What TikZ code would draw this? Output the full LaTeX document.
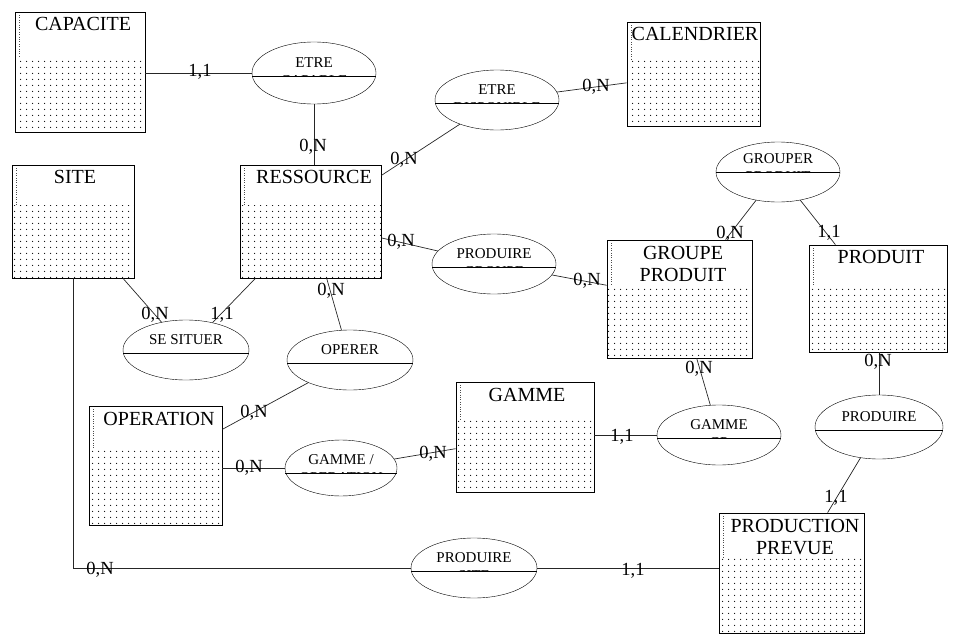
\documentclass[tikz,border=0pt]{standalone}
\usepackage{fontspec}
\setmainfont{Liberation Serif}
\usetikzlibrary{shapes.geometric,patterns.meta}
\tikzdeclarepattern{name=sdots,tile size={(6pt,6pt)},bottom left={(0pt,0pt)},top right={(6pt,6pt)},code={\fill (3pt,3pt) circle (0.7pt);}}
\tikzset{
 ent/.style={draw,thick,rectangle,inner sep=0},
 rel/.style={draw,ellipse,inner sep=0},
 ttl/.style={font=\fontsize{20}{22}\selectfont,inner sep=0},
 rtx/.style={font=\fontsize{15}{17}\selectfont,inner sep=0},
 card/.style={font=\fontsize{18.5}{20}\selectfont,inner sep=0},
 ln/.style={draw=black!85,line width=0.7pt}
}
% name, x1, y1, x2, y2, patternY
\newcommand{\myent}[6]{%
 \fill[pattern=sdots,pattern color=black] (#2,#6) rectangle (#4,#5);
 \draw[dotted,black!70] (#2+4,#3+3) -- (#2+4,#6);
 \node[ent,minimum width=#4-#2,minimum height=#5-#3] (#1) at ({(#2+#4)/2},{(#3+#5)/2}) {};}
% name, cx, cy, rx, ry, divider y, line1, line2
\newcommand{\myrel}[8]{%
 \node[rel,minimum width=2*#4,minimum height=2*#5] (#1) at (#2,#3) {};
 \draw (#2-#4,#6) -- (#2+#4,#6);
 \begin{scope}\clip (#2-#4,#3-#5) rectangle (#2+#4,#6);
 \node[rtx,anchor=base] (#1t) at (#2,#6-9) {#7};
 \node[rtx,anchor=base] (#1u) at (#2,#6+9) {#8};
 \end{scope}}
\begin{document}
\begin{tikzpicture}[x=1pt,y=-1pt]
\useasboundingbox (0,0) rectangle (962,640);
\myent{cap}{15}{12}{145}{132}{57}
\myent{cal}{627}{22}{760}{126}{60}
\myent{site}{12}{165}{134}{278}{205}
\myent{res}{240}{165}{381}{278}{205}
\myent{gp}{607}{240}{752}{358}{285}
\myent{prod}{809}{245}{947}{352}{285}
\myent{opn}{89}{406}{222}{525}{448}
\myent{gam}{456}{382}{594}{492}{420}
\myent{pp}{719}{513}{864}{633}{558}
\node[ttl] (tcap) at (83,24) {CAPACITE};
\node[ttl] (tcal) at (695,34) {CALENDRIER};
\node[ttl] (tsite) at (75,177) {SITE};
\node[ttl] (tres) at (314,177) {RESSOURCE};
\node[ttl] (tgp) at (683,253) {GROUPE};
\node[ttl] (tgp2) at (683,275) {PRODUIT};
\node[ttl] (tprod) at (881,257) {PRODUIT};
\node[ttl] (topn) at (159,419) {OPERATION};
\node[ttl] (tgam) at (527,395) {GAMME};
\node[ttl] (tpp) at (795,526) {PRODUCTION};
\node[ttl] (tpp2) at (795,548) {PREVUE};
\myrel{ec}{314}{73}{62}{31}{76}{ETRE}{CAPABLE}
\myrel{ed}{497}{100}{62}{30}{103}{ETRE}{DISPONIBLE}
\myrel{grp}{778}{172}{62}{30}{172}{GROUPER}{PRODUIT}
\myrel{pg}{494}{264}{62}{30}{267}{PRODUIRE}{GROUPE}
\myrel{ss}{186}{350}{63}{30}{353}{SE SITUER}{}
\myrel{op}{350}{360}{63}{30}{363}{OPERER}{}
\myrel{go}{341}{468}{56}{28}{473}{GAMME /}{OPERATION}
\myrel{ggp}{719}{435}{62}{30}{438}{GAMME}{GP}
\myrel{pr}{879}{427}{64}{32}{430}{PRODUIRE}{}
\myrel{ps}{474}{568}{63}{30}{571}{PRODUIRE}{SITE}
\draw[ln] (cap.east |- ec.west) -- (ec.west);
\draw[ln] (ec.south) -- (ec.south |- res.north);
\draw[ln] (res) -- (ed);
\draw[ln] (ed) -- (cal);
\draw[ln] (res) -- (pg);
\draw[ln] (pg) -- (gp);
\draw[ln] (grp) -- (gp);
\draw[ln] (grp) -- (prod);
\draw[ln] (site) -- (ss);
\draw[ln] (res) -- (ss);
\draw[ln] (res) -- (op);
\draw[ln] (op) -- (opn);
\draw[ln] (go.west) -- (go.west -| opn.east);
\draw[ln] (go) -- (gam);
\draw[ln] (ggp.west) -- (ggp.west -| gam.east);
\draw[ln] (gp) -- (ggp);
\draw[ln] (pr.north) -- (pr.north |- prod.south);
\draw[ln] (pr) -- (pp);
\draw[ln] (site.south) |- (ps.west);
\draw[ln] (ps.east) -- (ps.east -| pp.west);
\node[card] (c1) at (200,72) {1,1};
\node[card] (c2) at (313,147) {0,N};
\node[card] (c3) at (404,160) {0,N};
\node[card] (c4) at (596,87) {0,N};
\node[card] (c5) at (401,242) {0,N};
\node[card] (c6) at (587,281) {0,N};
\node[card] (c7) at (730,234) {0,N};
\node[card] (c8) at (829,233) {1,1};
\node[card] (c9) at (155,315) {0,N};
\node[card] (c10) at (222,315) {1,1};
\node[card] (c11) at (331,291) {0,N};
\node[card] (c12) at (254,413) {0,N};
\node[card] (c13) at (249,468) {0,N};
\node[card] (c14) at (433,454) {0,N};
\node[card] (c15) at (622,437) {1,1};
\node[card] (c16) at (699,369) {0,N};
\node[card] (c17) at (878,362) {0,N};
\node[card] (c18) at (836,498) {1,1};
\node[card] (c19) at (100,570) {0,N};
\node[card] (c20) at (633,571) {1,1};
\end{tikzpicture}
\end{document}
